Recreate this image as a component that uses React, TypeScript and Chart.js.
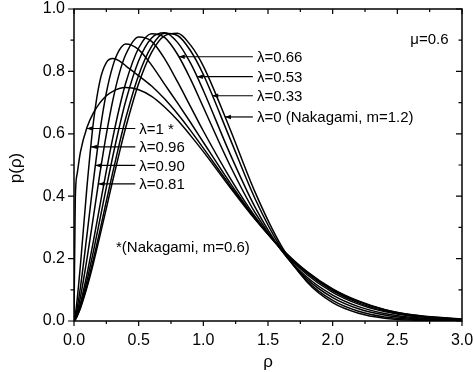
import { useEffect, useRef } from 'react';
import { Chart, registerables } from 'chart.js';

Chart.register(...registerables);

// rho grid shared by all curves
const rho = [0, 0.01, 0.025, 0.05, 0.1, 0.15, 0.2, 0.25, 0.3, 0.35, 0.4, 0.5, 0.6, 0.7, 0.8, 0.9, 1.0, 1.2, 1.4, 1.6, 1.8, 2.0, 2.2, 2.4, 2.6, 3.0];

const lam100 = [0, 0.393, 0.473, 0.542, 0.620, 0.667, 0.699, 0.722, 0.736, 0.745, 0.748, 0.741, 0.720, 0.686, 0.644, 0.595, 0.543, 0.432, 0.326, 0.234, 0.159, 0.103, 0.064, 0.037, 0.021, 0.006];
const lam096 = [0, 0.020, 0.071, 0.181, 0.429, 0.637, 0.769, 0.828, 0.841, 0.834, 0.818, 0.786, 0.753, 0.712, 0.664, 0.611, 0.554, 0.438, 0.328, 0.233, 0.157, 0.101, 0.062, 0.036, 0.020, 0.005];
const lam090 = [0, 0.012, 0.042, 0.109, 0.275, 0.449, 0.607, 0.731, 0.817, 0.868, 0.888, 0.870, 0.820, 0.759, 0.699, 0.637, 0.573, 0.447, 0.330, 0.232, 0.154, 0.097, 0.058, 0.033, 0.018, 0.005];
const lam081 = [0, 0.008, 0.029, 0.077, 0.198, 0.334, 0.472, 0.598, 0.707, 0.793, 0.854, 0.910, 0.896, 0.841, 0.767, 0.688, 0.609, 0.463, 0.335, 0.230, 0.149, 0.092, 0.054, 0.030, 0.016, 0.004];
const lam066 = [0, 0.006, 0.022, 0.057, 0.149, 0.256, 0.369, 0.481, 0.587, 0.682, 0.763, 0.875, 0.921, 0.909, 0.855, 0.776, 0.685, 0.504, 0.347, 0.228, 0.141, 0.083, 0.046, 0.024, 0.012, 0.002];
const lam053 = [0, 0.005, 0.019, 0.050, 0.129, 0.223, 0.325, 0.428, 0.528, 0.621, 0.705, 0.834, 0.907, 0.924, 0.893, 0.827, 0.739, 0.542, 0.365, 0.229, 0.135, 0.075, 0.039, 0.019, 0.009, 0.002];
const lam033 = [0, 0.005, 0.017, 0.044, 0.114, 0.198, 0.289, 0.384, 0.477, 0.567, 0.650, 0.788, 0.880, 0.922, 0.915, 0.867, 0.790, 0.591, 0.392, 0.235, 0.129, 0.066, 0.031, 0.013, 0.006, 0.001];
const lam000 = [0, 0.004, 0.016, 0.041, 0.107, 0.185, 0.272, 0.361, 0.451, 0.538, 0.620, 0.761, 0.861, 0.914, 0.922, 0.885, 0.817, 0.622, 0.413, 0.243, 0.126, 0.059, 0.025, 0.009, 0.003, 0.000];

const seriesNames = ['λ=1', 'λ=0.96', 'λ=0.90', 'λ=0.81', 'λ=0.66', 'λ=0.53', 'λ=0.33', 'λ=0'];
const seriesValues = [lam100, lam096, lam090, lam081, lam066, lam053, lam033, lam000];

const xTickValues = [0, 0.5, 1.0, 1.5, 2.0, 2.5, 3.0];
const xTickLabels = ['0.0', '0.5', '1.0', '1.5', '2.0', '2.5', '3.0'];
const yTickValues = [0, 0.2, 0.4, 0.6, 0.8, 1.0];
const yTickLabels = ['0.0', '0.2', '0.4', '0.6', '0.8', '1.0'];

// curve labels: text, series index, p level, side of the curve, text start (rho)
const annotTexts = ['λ=0.66', 'λ=0.53', 'λ=0.33', 'λ=0 (Nakagami, m=1.2)', 'λ=1 *', 'λ=0.96', 'λ=0.90', 'λ=0.81'];
const annotSeries = [4, 5, 6, 7, 0, 1, 2, 3];
const annotLevels = [0.847, 0.783, 0.722, 0.654, 0.617, 0.558, 0.4985, 0.4395];
const annotSides = ['fall', 'fall', 'fall', 'fall', 'rise', 'rise', 'rise', 'rise'];
const annotTextRho = [1.414, 1.414, 1.414, 1.414, 0.505, 0.505, 0.505, 0.505];

const FONT = 'Arial, "Liberation Sans", sans-serif';

function findRho(ys: number[], level: number, side: string): number {
  let peak = 0;
  for (let j = 1; j < ys.length; j++) if (ys[j] > ys[peak]) peak = j;
  if (side === 'rise') {
    for (let j = 0; j < peak; j++) {
      if (ys[j] <= level && ys[j + 1] >= level) {
        return rho[j] + (rho[j + 1] - rho[j]) * (level - ys[j]) / (ys[j + 1] - ys[j]);
      }
    }
  } else {
    for (let j = peak; j < ys.length - 1; j++) {
      if (ys[j] >= level && ys[j + 1] <= level) {
        return rho[j] + (rho[j + 1] - rho[j]) * (ys[j] - level) / (ys[j] - ys[j + 1]);
      }
    }
  }
  return rho[peak];
}

const framePlugin = {
  id: 'frame',
  afterDraw(chart: any) {
    const { ctx, chartArea } = chart;
    const { left, right, top, bottom } = chartArea;
    const xs = chart.scales.x;
    const ys = chart.scales.y;
    ctx.save();
    ctx.strokeStyle = '#000';
    ctx.lineWidth = 1.5;
    ctx.strokeRect(left, top, right - left, bottom - top);
    ctx.lineWidth = 1.2;
    ctx.beginPath();
    for (let v = 0; v <= 3.0001; v += 0.25) {
      const major = Math.abs(v / 0.5 - Math.round(v / 0.5)) < 1e-6;
      const len = major ? 5 : 3;
      const px = xs.getPixelForValue(v);
      ctx.moveTo(px, bottom);
      ctx.lineTo(px, bottom + len);
      ctx.moveTo(px, top);
      ctx.lineTo(px, top + len);
    }
    for (let v = 0; v <= 1.0001; v += 0.1) {
      const major = Math.abs(v / 0.2 - Math.round(v / 0.2)) < 1e-6;
      const len = major ? 6 : 3.5;
      const py = ys.getPixelForValue(v);
      ctx.moveTo(left, py);
      ctx.lineTo(left - len, py);
      ctx.moveTo(right, py);
      ctx.lineTo(right - len, py);
    }
    ctx.stroke();

    // axis titles
    ctx.fillStyle = '#000';
    ctx.font = `17px ${FONT}`;
    ctx.textAlign = 'center';
    ctx.textBaseline = 'middle';
    ctx.fillText('ρ', (left + right) / 2, 362);
    ctx.save();
    ctx.translate(16, 168);
    ctx.rotate(-Math.PI / 2);
    ctx.fillText('p(ρ)', 0, 0);
    ctx.restore();

    // annotations
    ctx.font = `15px ${FONT}`;
    ctx.textAlign = 'left';
    ctx.lineWidth = 1.2;
    for (let i = 0; i < annotTexts.length; i++) {
      const vals = seriesValues[annotSeries[i]];
      const tipRho = findRho(vals, annotLevels[i], annotSides[i]);
      const tx = xs.getPixelForValue(tipRho);
      const ty = ys.getPixelForValue(annotLevels[i]);
      const textX = xs.getPixelForValue(annotTextRho[i]);
      ctx.beginPath();
      ctx.moveTo(tx, ty);
      ctx.lineTo(textX - 4, ty);
      ctx.stroke();
      ctx.beginPath();
      ctx.moveTo(tx, ty);
      ctx.lineTo(tx + 6, ty - 2.2);
      ctx.lineTo(tx + 6, ty + 2.2);
      ctx.closePath();
      ctx.fill();
      ctx.fillText(annotTexts[i], textX, ty + 1);
    }
    ctx.fillText('*(Nakagami, m=0.6)', xs.getPixelForValue(0.325), ys.getPixelForValue(0.233));
    ctx.fillText('μ=0.6', xs.getPixelForValue(2.6), ys.getPixelForValue(0.9));
    ctx.restore();
  },
};

export default function App() {
  const ref = useRef<HTMLCanvasElement | null>(null);
  useEffect(() => {
    document.body.style.margin = '0';
    const canvas = ref.current;
    if (!canvas) return;
    const chart = new Chart(canvas, {
      type: 'line',
      data: {
        datasets: seriesValues.map((vals, i) => ({
          label: seriesNames[i],
          data: rho.map((x, j) => ({ x, y: vals[j] })),
          borderColor: '#000',
          borderWidth: 1.5,
          pointRadius: 0,
          fill: false,
          cubicInterpolationMode: 'monotone' as const,
        })),
      },
      options: {
        responsive: false,
        animation: false,
        events: [],
        layout: { padding: { top: 9, right: 12, left: 0, bottom: 0 } },
        plugins: { legend: { display: false }, tooltip: { enabled: false } },
        scales: {
          x: {
            type: 'linear',
            min: 0,
            max: 3,
            afterBuildTicks: (s: any) => {
              s.ticks = xTickValues.map((v) => ({ value: v }));
            },
            afterFit: (s: any) => {
              s.height = 51;
              s.paddingLeft = 0;
              s.paddingRight = 0;
            },
            ticks: {
              autoSkip: false,
              maxRotation: 0,
              padding: 10,
              color: '#000',
              font: { family: FONT, size: 16 },
              callback: (v: any) => {
                const k = xTickValues.findIndex((t) => Math.abs(t - Number(v)) < 1e-6);
                return k >= 0 ? xTickLabels[k] : '';
              },
            },
            grid: { display: false, drawTicks: false },
            border: { display: false },
          },
          y: {
            type: 'linear',
            min: 0,
            max: 1,
            afterBuildTicks: (s: any) => {
              s.ticks = yTickValues.map((v) => ({ value: v }));
            },
            afterFit: (s: any) => {
              s.width = 74;
              s.paddingTop = 0;
              s.paddingBottom = 0;
            },
            ticks: {
              autoSkip: false,
              padding: 9,
              color: '#000',
              font: { family: FONT, size: 16 },
              callback: (v: any) => {
                const k = yTickValues.findIndex((t) => Math.abs(t - Number(v)) < 1e-6);
                return k >= 0 ? yTickLabels[k] : '';
              },
            },
            grid: { display: false, drawTicks: false },
            border: { display: false },
          },
        },
      },
      plugins: [framePlugin],
    });
    return () => chart.destroy();
  }, []);
  return (
    <div style={{ width: 474, height: 372, background: '#fff' }}>
      <canvas ref={ref} width={474} height={372} style={{ display: 'block' }} />
    </div>
  );
}
